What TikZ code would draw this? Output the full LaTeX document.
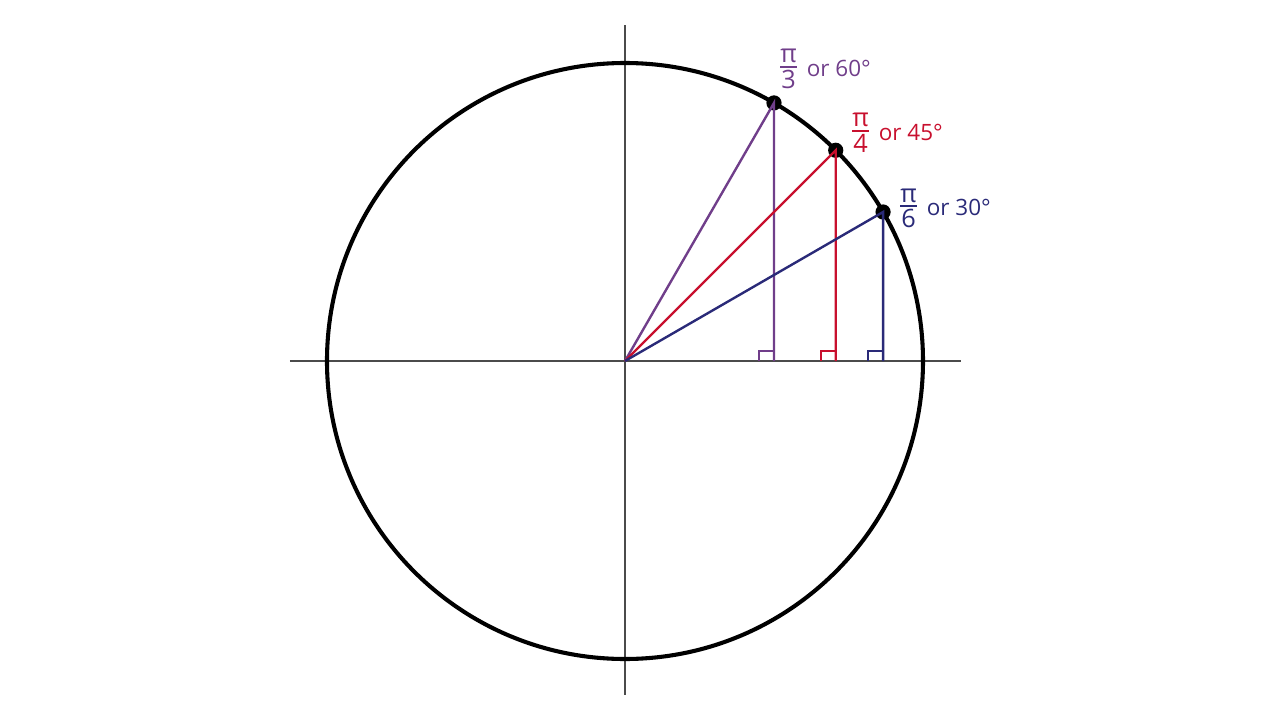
\documentclass[tikz,border=0pt]{standalone}
\usepackage{amsmath}
\usepackage{fontspec}
\setmainfont{Open Sans}
\usepackage{tikz}
\usetikzlibrary{positioning}
\definecolor{ucpurple}{RGB}{112,62,138}
\definecolor{ucred}{RGB}{200,16,46}
\definecolor{ucblue}{RGB}{42,42,120}
\definecolor{ucgray}{RGB}{75,75,75}
\tikzstyle{axis} = [line width=2.1pt, color=ucgray]
\tikzstyle{ray} = [line width=1.7pt]
\tikzstyle{rightmark} = [line width=1.7pt]
\tikzstyle{pt} = [circle, fill=black, inner sep=0pt, minimum size=0.38cm]
\tikzstyle{anglabel} = [anchor=west, inner sep=0pt, font=\fontsize{16}{18}\selectfont]
\newcommand{\pifrac}[1]{{\fontsize{18}{18}\selectfont\setlength{\arrayrulewidth}{1.3pt}%
\begin{tabular}[c]{@{}c@{}}π\\[-3pt]\hline\rule{0pt}{14.5pt}#1\end{tabular}}\hspace{0.45em}}

\begin{document}
\begin{tikzpicture}
\useasboundingbox (-15.625,-8.975) rectangle (16.375,9.025);
% Axes
\coordinate (O) at (0,0);
\coordinate (xl) at (-8.375,0);
\coordinate (xr) at (8.4,0);
\coordinate (yt) at (0,8.4);
\coordinate (yb) at (0,-8.35);
\draw[axis] (xl) -- (xr);
\draw[axis] (yt) -- (yb);

% Unit circle
\draw[line width=2.9pt, black] (O) circle (7.45);

% Points on the circle
\node[pt] (p60) at (60:7.45) {};
\node[pt] (p45) at (45:7.45) {};
\node[pt] (p30) at (30:7.45) {};
\coordinate (f60) at (p60 |- O);
\coordinate (f45) at (p45 |- O);
\coordinate (f30) at (p30 |- O);

% Triangles
\draw[ray, ucpurple] (O) -- (p60.center) -- (f60);
\draw[rightmark, ucpurple] ([xshift=-0.375cm]f60) -- ++(0,0.25) -- ++(0.375,0);
\draw[ray, ucred] (O) -- (p45.center) -- (f45);
\draw[rightmark, ucred] ([xshift=-0.375cm]f45) -- ++(0,0.25) -- ++(0.375,0);
\draw[ray, ucblue] (O) -- (p30.center) -- (f30);
\draw[rightmark, ucblue] ([xshift=-0.375cm]f30) -- ++(0,0.25) -- ++(0.375,0);

% Labels
\node[anglabel, ucpurple] (l60) at (3.875,7.26) {\pifrac{3}or 60°};
\node[anglabel, ucred] (l45) at (5.675,5.66) {\pifrac{4}or 45°};
\node[anglabel, ucblue] (l30) at (6.875,3.78) {\pifrac{6}or 30°};
\end{tikzpicture}
\end{document}
